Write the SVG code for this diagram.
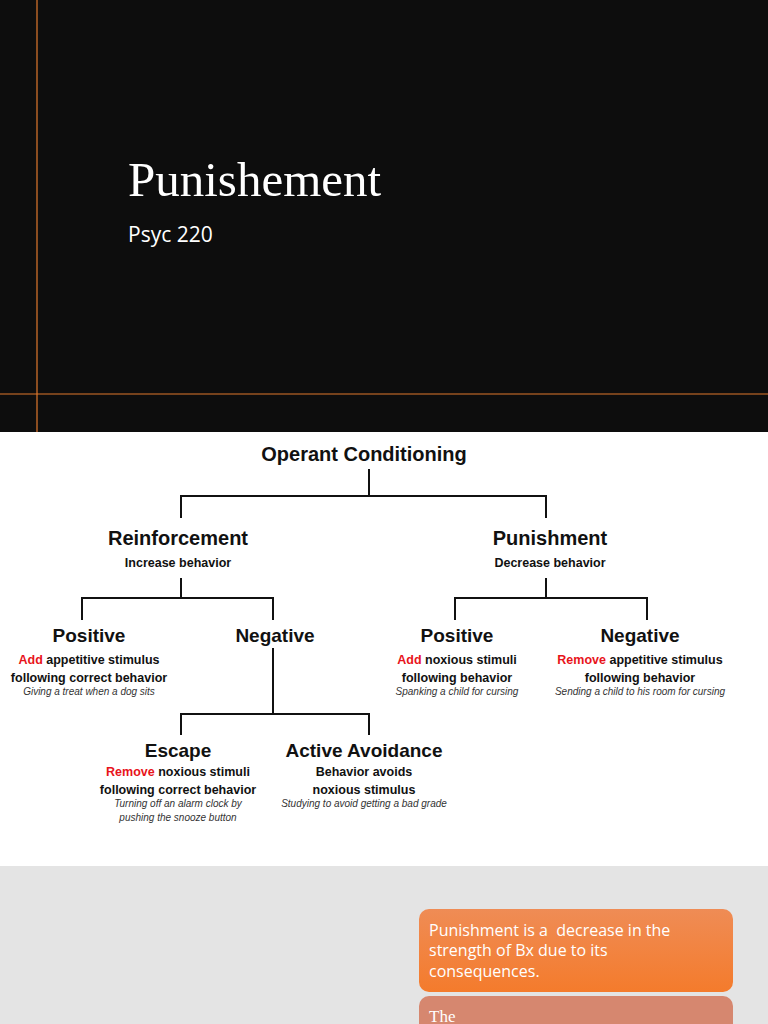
<svg xmlns="http://www.w3.org/2000/svg" width="768" height="1024" viewBox="0 0 768 1024">
<style>
.t{font-family:"Liberation Sans",Arial,sans-serif;font-weight:bold;fill:#111;text-anchor:middle}
.h1{font-size:20px}.h2{font-size:19px}.s{font-size:12.5px}.i{font-size:10px;font-style:italic;font-weight:normal;fill:#333}
.r{fill:#e8141b}
.ln{stroke:#111;stroke-width:2;fill:none}
</style>
<rect x="0" y="0" width="768" height="432" fill="#0d0d0d"/>
<line x1="37" y1="0" x2="37" y2="432" stroke="#e0782d" stroke-width="1.2"/>
<line x1="0" y1="394" x2="768" y2="394" stroke="#e0782d" stroke-width="1.2"/>
<text x="128" y="196" font-family="Liberation Serif,serif" font-size="49" fill="#fff">Punishement</text>
<text x="128" y="242" font-family="Open Sans,sans-serif" font-size="21" fill="#fff">Psyc 220</text>
<rect x="0" y="432" width="768" height="434" fill="#fff"/>
<rect x="0" y="866" width="768" height="158" fill="#e4e4e4"/>
<g id="connectors">
<path class="ln" d="M369 469V496M181 518V496H546V518"/>
<path class="ln" d="M181 578V598M82 620V598H273V620"/>
<path class="ln" d="M546 578V598M455 620V598H647V620"/>
<path class="ln" d="M273 648V714M181 735V714H369V735"/>
</g>
<g id="oc"><text class="t h1" x="364" y="461">Operant Conditioning</text></g>
<g id="reinf"><text class="t h1" x="178" y="545">Reinforcement</text><text class="t s" x="178" y="567">Increase behavior</text></g>
<g id="pun"><text class="t h1" x="550" y="545">Punishment</text><text class="t s" x="550" y="567">Decrease behavior</text></g>
<g id="rpos"><text class="t h2" x="89" y="642">Positive</text>
<text class="t s" x="89" y="664"><tspan class="r">Add</tspan> appetitive stimulus</text>
<text class="t s" x="89" y="682">following correct behavior</text>
<text class="t i" x="89" y="695">Giving a treat when a dog sits</text></g>
<g id="rneg"><text class="t h2" x="275" y="642">Negative</text></g>
<g id="ppos"><text class="t h2" x="457" y="642">Positive</text>
<text class="t s" x="457" y="664"><tspan class="r">Add</tspan> noxious stimuli</text>
<text class="t s" x="457" y="682">following behavior</text>
<text class="t i" x="457" y="695">Spanking a child for cursing</text></g>
<g id="pneg"><text class="t h2" x="640" y="642">Negative</text>
<text class="t s" x="640" y="664"><tspan class="r">Remove</tspan> appetitive stimulus</text>
<text class="t s" x="640" y="682">following behavior</text>
<text class="t i" x="640" y="695">Sending a child to his room for cursing</text></g>
<g id="escape"><text class="t h2" x="178" y="757">Escape</text>
<text class="t s" x="178" y="776"><tspan class="r">Remove</tspan> noxious stimuli</text>
<text class="t s" x="178" y="794">following correct behavior</text>
<text class="t i" x="178" y="807">Turning off an alarm clock by</text>
<text class="t i" x="178" y="821">pushing the snooze button</text></g>
<g id="avoid"><text class="t h2" x="364" y="757">Active Avoidance</text>
<text class="t s" x="364" y="776">Behavior avoids</text>
<text class="t s" x="364" y="794">noxious stimulus</text>
<text class="t i" x="364" y="807">Studying to avoid getting a bad grade</text></g>
<defs><linearGradient id="og" x1="0" y1="0" x2="0" y2="1"><stop offset="0" stop-color="#ef8c55"/><stop offset="1" stop-color="#f47b2c"/></linearGradient></defs>
<g id="box1"><rect x="419" y="909" width="314" height="83" rx="10" fill="url(#og)"/>
<g font-family="Open Sans,sans-serif" font-size="16" fill="#fff"><text x="429" y="936" xml:space="preserve">Punishment is a  decrease in the</text><text x="429" y="956">strength of Bx due to its</text><text x="429" y="977">consequences.</text></g></g>
<g id="box2"><rect x="419" y="996" width="314" height="50" rx="10" fill="#d6876f"/>
<text x="429" y="1022" font-family="Liberation Serif,serif" font-size="17" fill="#fff">The</text></g>
</svg>
